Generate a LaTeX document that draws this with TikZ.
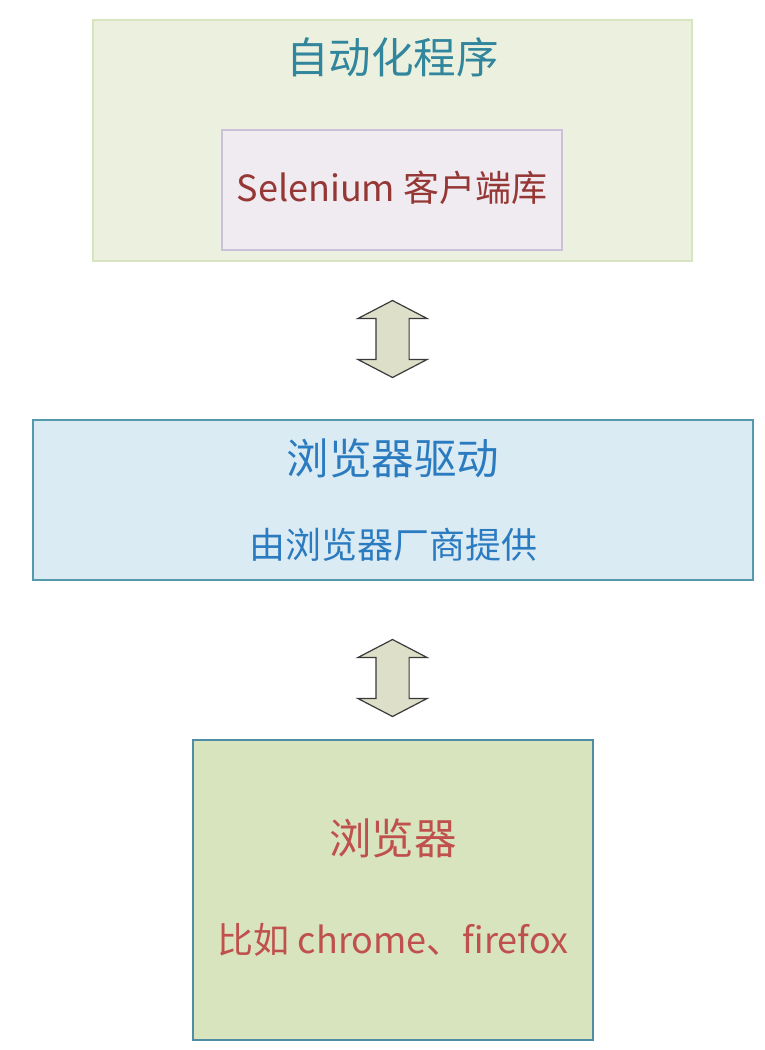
\documentclass[tikz,border=0pt]{standalone}
\usepackage{fontspec}
\setmainfont{Noto Sans CJK SC}
\usetikzlibrary{positioning,shapes.arrows}
\definecolor{autofill}{HTML}{EBF1DE}
\definecolor{autoline}{HTML}{D7E4BD}
\definecolor{autotext}{HTML}{31859C}
\definecolor{libfill}{HTML}{EFEBF1}
\definecolor{libline}{HTML}{CCC1DA}
\definecolor{libtext}{HTML}{953735}
\definecolor{drvfill}{HTML}{DBEBF3}
\definecolor{drvline}{HTML}{5599AC}
\definecolor{drvtext}{HTML}{2B7BC0}
\definecolor{brwfill}{HTML}{D7E4BD}
\definecolor{brwline}{HTML}{4E8DA5}
\definecolor{brwtext}{HTML}{C0504D}
\definecolor{arrowfill}{HTML}{DDDFC9}
\definecolor{arrowline}{HTML}{3A3A3A}
\begin{document}
\begin{tikzpicture}[x=1pt,y=-1pt,
    box/.style={draw,line width=1.2pt,inner sep=0pt},
    big/.style={font=\fontsize{42.5}{50}\selectfont},
    small/.style={font=\fontsize{36}{42}\selectfont},
    link/.style={shape=double arrow,draw=arrowline,fill=arrowfill,line width=1.2pt,
      rotate=90,inner sep=16pt,double arrow head extend=18pt,
      double arrow tip angle=125,minimum height=77pt,minimum width=69pt}]
    \useasboundingbox (0,0) rectangle (764,1050);
    % automation program with client library
    \node (auto) [box,draw=autoline,fill=autofill,minimum width=599pt,minimum height=241pt] at (392.5,140.5) {};
    \node (autot) [big,text=autotext] at (392.5,57) {自动化程序};
    \node (lib) [box,draw=libline,fill=libfill,minimum width=340pt,minimum height=120pt] at (392,190) {};
    \node (libt) [small,text=libtext] at (392,188) {Selenium 客户端库};
    % browser driver
    \node (drv) [box,draw=drvline,fill=drvfill,minimum width=720pt,minimum height=160pt] at (393,500) {};
    \node (drvt) [big,text=drvtext] at (393,458) {浏览器驱动};
    \node (drvs) [small,text=drvtext] at (393,545) {由浏览器厂商提供};
    % browser
    \node (brw) [box,draw=brwline,fill=brwfill,minimum width=400pt,minimum height=300pt] at (393,890) {};
    \node (brwt) [big,text=brwtext] at (393,838) {浏览器};
    \node (brws) [small,text=brwtext] at (393,940) {比如 chrome、firefox};
    % links
    \node (ad) [link] at (392.5,339) {};
    \node (db) [link] at (392.5,678) {};
  \end{tikzpicture}
\end{document}
